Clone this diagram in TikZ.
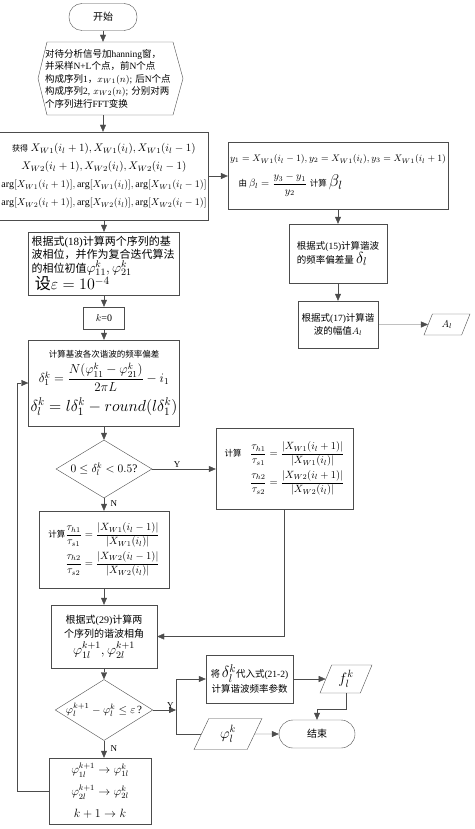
\RequirePackage{fix-cm}
\documentclass[tikz,border=0pt]{standalone}
\usepackage{amsmath}
\usepackage{fontspec}
\setmainfont{Liberation Serif}
\newfontfamily\cjk{Noto Sans CJK SC}
\newcommand{\zh}[1]{{\cjk #1}}
\newcommand{\sz}[2]{\fontsize{#1}{#2}\selectfont}
\usetikzlibrary{shapes.geometric, arrows.meta, positioning, calc}

\begin{document}
\begin{tikzpicture}[x=1pt, y=-1pt,
  box/.style={draw=black!70, align=center, inner sep=2pt},
  term/.style={draw=black!70, rounded corners=13pt, minimum width=68pt, minimum height=27pt, font=\sz{10}{12}},
  io/.style={draw=black!70, trapezium, trapezium left angle=70, trapezium right angle=110,
    trapezium stretches=true, inner sep=0pt},
  decision/.style={draw=black!70, diamond, aspect=1.6, inner sep=0pt},
  arrow/.style={-{Stealth[length=7pt, width=6pt, inset=0pt]}, draw=black!70},
  link/.style={draw=black!70},
  lab/.style={font=\sz{9}{10}, inner sep=1.5pt}
]
  \useasboundingbox (0,0) rectangle (474,829);

  % Nodes
  \node[term] (start) at (103,17) {\zh{开始}};
  \node[align=left, text width=130pt, minimum height=73pt, inner sep=0pt, font=\sz{9.5}{12.5}] (prep) at (110,78.5) {%
    \zh{对待分析信号加}hanning\zh{窗，}\\
    \zh{并采样}N+L\zh{个点，前}N\zh{个点}\\
    \zh{构成序列}1\zh{，}$x_{W1}(n)$; \zh{后}N\zh{个点}\\
    \zh{构成序列}2, $x_{W2}(n)$; \zh{分别对两}\\
    \zh{个序列进行}FFT\zh{变换}};
  \draw[link] (prep.center) ++(-63,-36.5) -- ++(126,0) -- ++(10,36.5) -- ++(-10,36.5)
    -- ++(-126,0) -- ++(-9,-36.5) -- cycle;

  \node[box, minimum width=204pt, minimum height=88pt, font=\sz{10}{18}] (getX) at (104,176) {%
    {\sz{8}{10}\zh{获得}}\ \sz{11}{18}$X_{W1}(i_l+1), X_{W1}(i_l), X_{W1}(i_l-1)$\\
    \sz{11}{18}$X_{W2}(i_l+1), X_{W2}(i_l), X_{W2}(i_l-1)$\\
    $\arg[X_{W1}(i_l+1)],\arg[X_{W1}(i_l)],\arg[X_{W1}(i_l-1)]$\\
    $\arg[X_{W2}(i_l+1)],\arg[X_{W2}(i_l)],\arg[X_{W2}(i_l-1)]$};

  \node[box, minimum width=212pt, minimum height=67pt, align=left, font=\sz{9.5}{25}] (beta) at (338,175.5) {%
    $y_1=X_{W1}(i_l-1), y_2=X_{W1}(i_l), y_3=X_{W1}(i_l+1)$\\
    \sz{8.5}{14}\quad\zh{由} \sz{10.5}{14}$\beta_l=\dfrac{y_3-y_1}{y_2}$ \sz{8.5}{14}\zh{计算} \sz{17}{16}$\beta_l$};
  \node[box, minimum width=98pt, minimum height=59pt, align=left, font=\sz{9.5}{14}] (dev) at (338,253.5) {%
    \zh{根据式}(15)\zh{计算谐波}\\
    \zh{的频率偏差量} \sz{16}{16}$\delta_l$};
  \node[box, minimum width=80pt, minimum height=47pt, font=\sz{9.5}{12.5}] (amp) at (338,324.5) {%
    \zh{根据式}(17)\zh{计算谐}\\
    \zh{波的幅值}$A_l$};
  \node[io, minimum width=46pt, minimum height=21pt] (Al) at (447,324.5) {\sz{10}{12}$A_l$};

  \node[box, minimum width=151pt, minimum height=63pt, align=left, text width=145pt, inner sep=0pt] (init) at (104,263.5) {%
    \sz{11}{13}\zh{根据式}(18)\zh{计算两个序列的基}\\
    \zh{波相位，并作为复合迭代算法}\\
    \zh{的相位初值}{\sz{14}{13}$\varphi_{11}^k,\varphi_{21}^k$}\\
    {\sz{16}{16}\ \zh{设}$\varepsilon=10^{-4}$}};
  \node[box, minimum width=41pt, minimum height=22pt] (k0) at (104,318) {\sz{10}{12}$k$=0};

  \node[box, minimum width=144pt, minimum height=86pt, font=\sz{8.5}{10}] (freq) at (104,383) {%
    \zh{计算基波各次谐波的频率偏差}\\[4pt]
    \sz{13}{16}$\delta_1^k=\dfrac{N(\varphi_{11}^k-\varphi_{21}^k)}{2\pi L}-i_1$\\[5pt]
    \sz{16}{16}$\delta_l^k=l\delta_1^k-round(l\delta_1^k)$};
  \node[decision, minimum width=96pt, minimum height=58pt] (d1) at (104,469) {\sz{11.5}{12}$0\le\delta_l^k<0.5$?};

  \node[box, minimum width=137pt, minimum height=81pt] (tauR) at (284.5,468.5) {%
    \sz{8.5}{10}\zh{计算}\quad\sz{10.5}{12}$\begin{aligned}[t]
      \frac{\tau_{h1}}{\tau_{s1}}&=\frac{|X_{W1}(i_l+1)|}{|X_{W1}(i_l)|}\\
      \frac{\tau_{h2}}{\tau_{s2}}&=\frac{|X_{W2}(i_l+1)|}{|X_{W2}(i_l)|}\end{aligned}$};
  \node[box, minimum width=130pt, minimum height=77pt] (tauL) at (104,549.5) {%
    \sz{8.5}{10}\zh{计算}\sz{10.5}{12}$\begin{aligned}[t]
      \frac{\tau_{h1}}{\tau_{s1}}&=\frac{|X_{W1}(i_l-1)|}{|X_{W1}(i_l)|}\\
      \frac{\tau_{h2}}{\tau_{s2}}&=\frac{|X_{W2}(i_l-1)|}{|X_{W2}(i_l)|}\end{aligned}$};

  \node[box, minimum width=106pt, minimum height=63pt, font=\sz{10}{14}] (phase) at (104,636.5) {%
    \zh{根据式}(29)\zh{计算两}\\
    \zh{个序列的谐波相角}\\[3pt]
    \sz{14}{16}$\varphi_{1l}^{k+1},\varphi_{2l}^{k+1}$};
  \node[decision, minimum width=95pt, minimum height=56pt] (d2) at (104,710) {\sz{11}{12}$\varphi_l^{k+1}-\varphi_l^k\le\varepsilon$\,?};
  \coordinate (yes) at (176,710);

  \node[box, minimum width=87pt, minimum height=48pt, font=\sz{9.5}{15}] (freqp) at (249.5,679) {%
    \zh{将}\,\sz{16}{14}$\delta_l^k$\sz{9.5}{12}\zh{代入式}(21-2)\\
    \zh{计算谐波频率参数}};
  \node[io, minimum width=52pt, minimum height=28pt] (f) at (346,679) {\sz{15}{15}$f_l^k$};
  \node[term, minimum width=76pt, minimum height=28pt, rounded corners=14pt] (stop) at (317,734) {\zh{结束}};
  \node[io, minimum width=68pt, minimum height=31pt] (phi) at (228,734) {\sz{15}{15}$\varphi_l^k$};

  \node[box, minimum width=102pt, minimum height=66pt, font=\sz{12}{22}] (upd) at (100,791) {%
    $\varphi_{1l}^{k+1}\to\varphi_{1l}^k$\\
    $\varphi_{2l}^{k+1}\to\varphi_{2l}^k$\\
    $k+1\to k$};

  % Arrows
  \draw[arrow] (start) -- (start |- prep.north);
  \draw[arrow] (start |- prep.south) -- (start |- getX.north);
  \draw[arrow] (getX.east) -- (getX.east -| beta.west);
  \draw[arrow] (beta) -- (dev);
  \draw[arrow] (dev) -- (amp);
  \draw[arrow] (amp) -- (Al);
  \draw[arrow] (getX) -- (init);
  \draw[arrow] (init) -- (k0);
  \draw[arrow] (k0) -- (freq);
  \draw[arrow] (freq) -- (d1);
  \draw[arrow] (d1.east) -- node[lab, above, pos=0.39]{Y} (d1.east -| tauR.west);
  \draw[arrow] (d1) -- node[lab, right=5pt, pos=0.45]{N} (tauL);
  \draw[arrow] (tauL) -- (phase);
  \draw[arrow] (tauR.south) |- (phase.east);
  \draw[arrow] (phase) -- (d2);
  \draw[arrow] (d2.east) -- node[lab, above, pos=0.75]{Y} (yes);
  \draw[arrow] (yes) |- (freqp.west);
  \draw[link] (yes) |- (phi.west);
  \draw[arrow] (freqp) -- (f);
  \draw[arrow] (f.south) -- ++(0,16) -| (stop.north);
  \draw[arrow] (phi) -- (stop);
  \draw[arrow] (d2.south) -- node[lab, right=5pt, pos=0.45]{N} (d2.south |- upd.north);

  % Loop back
  \draw[arrow] (upd.west) -- ++(-32,0) |- (freq.west);
\end{tikzpicture}
\end{document}
